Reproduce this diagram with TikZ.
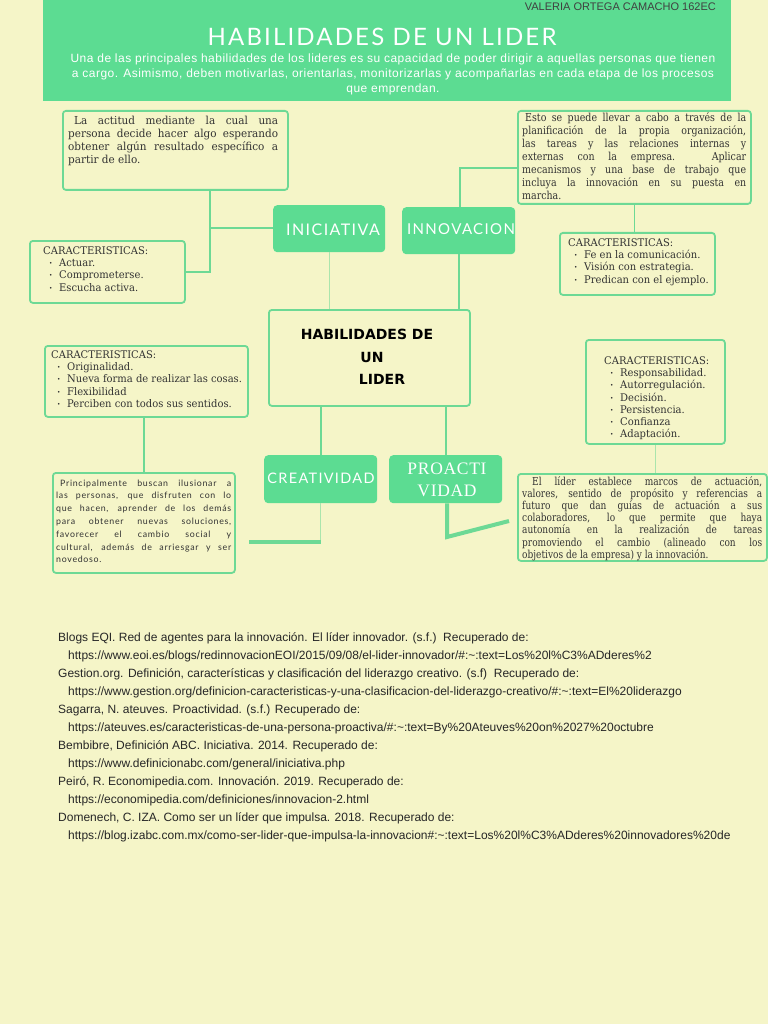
\documentclass[tikz,border=0pt]{standalone}
\usepackage{fontspec}
\setmainfont{DejaVu Serif}
\newfontfamily\defnfont[FakeStretch=0.82]{DejaVu Serif}
\newfontfamily\innfont[FakeStretch=0.86]{DejaVu Serif}
\newfontfamily\listfont[FakeStretch=0.95]{DejaVu Serif}
\newfontfamily\refsfont{Liberation Sans}
\newfontfamily\introfont[LetterSpace=4]{Liberation Sans}
\newfontfamily\labelfont[LetterSpace=9]{Lato}
\newfontfamily\titlefont[LetterSpace=9]{Lato}
\newfontfamily\spacedfont[LetterSpace=8]{Lato}
\newfontfamily\blackfont{DejaVu Sans}
\newfontfamily\capsfont[LetterSpace=4]{Liberation Serif}
\usetikzlibrary{positioning,calc}
\definecolor{bgcream}{HTML}{F5F5C8}
\definecolor{headgreen}{HTML}{5CDC92}
\definecolor{linegreen}{HTML}{6DD995}
\definecolor{textgray}{HTML}{333333}
\newcommand{\vineta}{\hspace*{6pt}\makebox[10pt][l]{\raisebox{1pt}{\fontsize{6}{6}\selectfont\textbullet}}}

\begin{document}
\begin{tikzpicture}[x=1pt,y=-1pt,
 caja/.style={draw=linegreen,line width=1.8pt,rounded corners=3pt,fill=bgcream,inner sep=0pt,anchor=north west},
 etiqueta/.style={fill=headgreen,rounded corners=4pt,inner sep=0pt,anchor=north west},
 etiquetatxt/.style={text=white,inner sep=0pt,align=center},
 texto/.style={inner sep=0pt,anchor=north west,align=justify,text=textgray,font=\defnfont\fontsize{11}{13}\selectfont},
 lista/.style={inner sep=0pt,anchor=north west,align=left,text=textgray,font=\listfont\fontsize{10.5}{12.2}\selectfont},
 conn/.style={linegreen,line width=2.2pt},
 connthin/.style={linegreen,line width=1.4pt},
 connfine/.style={linegreen!55!bgcream,line width=0.9pt},
 refs/.style={inner sep=0pt,anchor=north west,align=left,text=black!85,font=\refsfont\fontsize{12}{18}\selectfont}]
\useasboundingbox (0,0) rectangle (768,1024);
\fill[bgcream] (0,0) rectangle (768,1024);
% cabecera
\fill[headgreen] (43,0) rectangle (731,101);
\node[anchor=east,inner sep=0pt,text=black!75,font=\refsfont\fontsize{11}{11}\selectfont] (autora) at (716,7) {VALERIA ORTEGA CAMACHO 162EC};
\node[inner sep=0pt,text=white,font=\titlefont\fontsize{24}{24}\selectfont] (titulo) at (382,37) {HABILIDADES DE UN LIDER};
\node[inner sep=0pt,text=white,align=center,font=\introfont\fontsize{12}{15}\selectfont] (intro) at (393,74.5)
 {Una de las principales habilidades de los lideres es su capacidad de poder dirigir a aquellas personas que tienen\\
  a cargo. Asimismo, deben motivarlas, orientarlas, monitorizarlas y acompañarlas en cada etapa de los procesos\\
  que emprendan.};

% cajas
\node[caja,minimum width=225pt,minimum height=79pt] (ini-def) at (62,110) {};
\node[caja,minimum width=155pt,minimum height=62pt] (ini-car) at (29,240) {};
\node[caja,minimum width=233pt,minimum height=93pt] (inn-def) at (517,110) {};
\node[caja,minimum width=155pt,minimum height=62pt] (inn-car) at (559,232) {};
\node[caja,minimum width=201pt,minimum height=96pt] (centro) at (268,309) {};
\node[caja,minimum width=203pt,minimum height=71pt] (cre-car) at (44,345) {};
\node[caja,minimum width=182pt,minimum height=100pt] (cre-def) at (52,472) {};
\node[caja,minimum width=139pt,minimum height=104pt] (pro-car) at (585,339) {};
\node[caja,minimum width=249pt,minimum height=87pt] (pro-def) at (517,473) {};

\node[etiqueta,minimum width=112pt,minimum height=47pt] (ini-lab) at (273,205) {};
\node[etiqueta,minimum width=113pt,minimum height=47pt] (inn-lab) at (402,207) {};
\node[etiqueta,minimum width=113pt,minimum height=48pt] (cre-lab) at (264,455) {};
\node[etiqueta,minimum width=113pt,minimum height=48pt] (pro-lab) at (389,455) {};

% textos
\node[etiquetatxt,font=\labelfont\fontsize{16}{16}\selectfont] (ini-labtxt) at (333,230) {INICIATIVA};
\node[etiquetatxt,font=\labelfont\fontsize{15}{15}\selectfont] (inn-labtxt) at (461,229) {INNOVACION};
\node[etiquetatxt,font=\labelfont\fontsize{14.5}{14.5}\selectfont] (cre-labtxt) at (321,478) {CREATIVIDAD};
\node[etiquetatxt,font=\capsfont\fontsize{17.5}{22}\selectfont] (pro-labtxt) at (447,480) {PROACTI\\VIDAD};
\node[inner sep=0pt,align=center,font=\blackfont\bfseries\fontsize{14}{22.5}\selectfont] (centro-txt) at (367,357)
 {HABILIDADES DE\\\hspace*{10pt}UN\\\hspace*{30pt}LIDER};

\node[texto,text width=210pt,font=\listfont\fontsize{11}{13}\selectfont] (ini-deftxt) at (68,116)
 {\hspace*{6pt}La actitud mediante la cual una\linebreak persona decide hacer algo esperando\linebreak
  obtener algún resultado específico a\linebreak partir de ello.};
\node[lista] (ini-cartxt) at (43,246.5)
 {CARACTERISTICAS:\\\vineta Actuar.\\\vineta Comprometerse.\\\vineta Escucha activa.};
\node[texto,text width=224pt,font=\innfont\fontsize{11}{13}\selectfont] (inn-deftxt) at (522,113)
 {\hspace*{3pt}Esto se puede llevar a cabo a través de la\linebreak planificación de la propia organización,\linebreak
  las tareas y las relaciones internas y\linebreak externas con la empresa. Aplicar\linebreak
  mecanismos y una base de trabajo que\linebreak incluya la innovación en su puesta en\linebreak marcha.};
\node[lista] (inn-cartxt) at (568,238.5)
 {CARACTERISTICAS:\\\vineta Fe en la comunicación.\\\vineta Visión con estrategia.\\\vineta Predican con el ejemplo.};
\node[lista] (cre-cartxt) at (51,350.5)
 {CARACTERISTICAS:\\\vineta Originalidad.\\\vineta Nueva forma de realizar las cosas.\\\vineta Flexibilidad\\\vineta Perciben con todos sus sentidos.};
\node[texto,text width=175pt,font=\spacedfont\fontsize{8.8}{12.8}\selectfont] (cre-deftxt) at (56,479.5)
 {\hspace*{4pt}Principalmente buscan ilusionar a\linebreak las personas, que disfruten con lo\linebreak
  que hacen, aprender de los demás\linebreak para obtener nuevas soluciones,\linebreak
  favorecer el cambio social y\linebreak cultural, además de arriesgar y ser\linebreak novedoso.};
\node[lista] (pro-cartxt) at (604,356.5)
 {CARACTERISTICAS:\\\vineta Responsabilidad.\\\vineta Autorregulación.\\\vineta Decisión.\\\vineta Persistencia.\\\vineta Confianza\\\vineta Adaptación.};
\node[texto,text width=240pt,font=\defnfont\fontsize{11}{12.2}\selectfont] (pro-deftxt) at (522,476)
 {\hspace*{10pt}El líder establece marcos de actuación,\linebreak valores, sentido de propósito y referencias a\linebreak
  futuro que dan guías de actuación a sus\linebreak colaboradores, lo que permite que haya\linebreak
  autonomía en la realización de tareas\linebreak promoviendo el cambio (alineado con los\linebreak
  objetivos de la empresa) y la innovación.};

% conectores
\coordinate (ini-nudo) at (210,228);
\draw[conn] (ini-nudo |- ini-def.south) -- (ini-nudo) -- (ini-nudo -| ini-lab.west);
\draw[connthin] (ini-nudo) -- (ini-nudo |- ini-car.east) -- (ini-car.east);
\draw[connfine] (ini-lab.south) -- (ini-lab.south |- centro.north);
\coordinate (inn-nudo) at (460,168);
\draw[connthin] (inn-nudo |- inn-lab.north) -- (inn-nudo) -- (inn-nudo -| inn-def.west);
\draw[conn] (inn-lab.south) -- (inn-lab.south |- centro.north);
\draw[connthin] (inn-def.south) -- (inn-def.south |- inn-car.north);
\draw[conn] (cre-lab.north |- centro.south) -- (cre-lab.north);
\draw[conn] (pro-lab.north |- centro.south) -- (pro-lab.north);
\coordinate (cre-fin) at (249,542);
\draw[connfine] (cre-lab.south) -- (cre-lab.south |- cre-fin);
\draw[conn,line width=3.5pt] (cre-lab.south |- cre-fin) -- (cre-fin);
\coordinate (pro-codo) at (447,537);
\coordinate (pro-fin) at (509,521);
\draw[conn,line width=4pt] (pro-codo |- pro-lab.south) -- (pro-codo) -- (pro-fin);
\draw[conn] (cre-def.north |- cre-car.south) -- (cre-def.north);
\draw[connfine] (pro-car.south) -- (pro-car.south |- pro-def.north);

% referencias
\node[refs] (referencias) at (58,632)
 {Blogs EQI. Red de agentes para la innovación. El líder innovador. (s.f.)\ \ Recuperado de:\\
  \hspace*{10pt}https://www.eoi.es/blogs/redinnovacionEOI/2015/09/08/el-lider-innovador/\#:\textasciitilde:text=Los\%20l\%C3\%ADderes\%2\\
  Gestion.org. Definición, características y clasificación del liderazgo creativo. (s.f)\ \ Recuperado de:\\
  \hspace*{10pt}https://www.gestion.org/definicion-caracteristicas-y-una-clasificacion-del-liderazgo-creativo/\#:\textasciitilde:text=El\%20liderazgo\\
  Sagarra, N. ateuves. Proactividad. (s.f.) Recuperado de:\\
  \hspace*{10pt}https://ateuves.es/caracteristicas-de-una-persona-proactiva/\#:\textasciitilde:text=By\%20Ateuves\%20on\%2027\%20octubre\\
  Bembibre, Definición ABC. Iniciativa. 2014. Recuperado de:\\
  \hspace*{10pt}https://www.definicionabc.com/general/iniciativa.php\\
  Peiró, R. Economipedia.com. Innovación. 2019. Recuperado de:\\
  \hspace*{10pt}https://economipedia.com/definiciones/innovacion-2.html\\
  Domenech, C. IZA. Como ser un líder que impulsa. 2018. Recuperado de:\\
  \hspace*{10pt}https://blog.izabc.com.mx/como-ser-lider-que-impulsa-la-innovacion\#:\textasciitilde:text=Los\%20l\%C3\%ADderes\%20innovadores\%20de};
\end{tikzpicture}
\end{document}
